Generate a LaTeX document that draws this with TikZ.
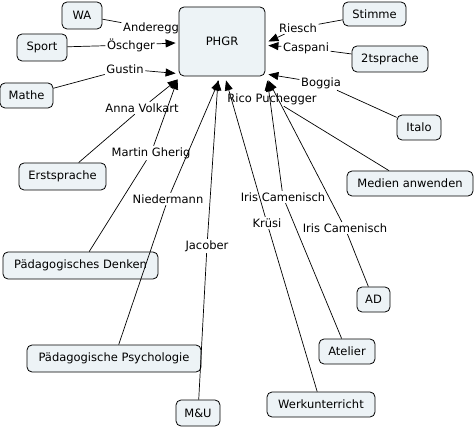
\documentclass[tikz,border=0pt]{standalone}
\usepackage{fontspec}
\setmainfont{DejaVu Sans}
\usetikzlibrary{arrows.meta,calc}
\definecolor{cfill}{RGB}{237,243,246}
\begin{document}
\begin{tikzpicture}[x=1pt,y=-1pt, font=\fontsize{11.5}{13}\selectfont,
  concept/.style={draw, line width=0.8pt, rounded corners=5pt, fill=cfill, inner sep=0pt, minimum height=25pt},
  lab/.style={inner sep=1.5pt},
  link/.style={line width=0.7pt},
  arr/.style={line width=0.7pt, -{Triangle[length=10pt,width=8pt]}}]
\useasboundingbox (0,0) rectangle (476,427);
% concepts
\node[concept, minimum width=86pt, minimum height=69pt] (phgr) at (222,41.5) {PHGR};
\node[concept, minimum width=40pt, minimum height=27pt] (wa) at (82,15.5) {WA};
\node[concept, minimum width=50pt, minimum height=27pt] (sport) at (42,47.5) {Sport};
\node[concept, minimum width=53pt] (mathe) at (26.5,95.5) {Mathe};
\node[concept, minimum width=87pt, minimum height=27pt] (erst) at (62.5,176.5) {Erstsprache};
\node[concept, minimum width=155pt, minimum height=27pt] (pdenken) at (80.5,265.5) {Pädagogisches Denken};
\node[concept, minimum width=174pt, minimum height=27pt] (ppsych) at (114,358.5) {Pädagogische Psychologie};
\node[concept, minimum width=44pt, minimum height=26pt] (mu) at (198,413) {M\&U};
\node[concept, minimum width=108pt] (werk) at (321,404.5) {Werkunterricht};
\node[concept, minimum width=56pt] (atelier) at (347,351.5) {Atelier};
\node[concept, minimum width=33pt] (ad) at (373.5,299.5) {AD};
\node[concept, minimum width=126pt] (medien) at (410,183.5) {Medien anwenden};
\node[concept, minimum width=44pt] (italo) at (419,127.5) {Italo};
\node[concept, minimum width=63pt, minimum height=24pt] (stimme) at (374.5,14) {Stimme};
\node[concept, minimum width=76pt, minimum height=26pt] (zweit) at (390,59) {2tsprache};
% linking phrases
\node[lab] (l-anderegg) at (151,28) {Anderegg};
\node[lab] (l-oeschger) at (131,45) {Öschger};
\node[lab] (l-gustin) at (125,69) {Gustin};
\node[lab] (l-anna) at (142,108) {Anna Volkart};
\node[lab] (l-martin) at (151,153) {Martin Gherig};
\node[lab] (l-nieder) at (168,199) {Niedermann};
\node[lab] (l-jacober) at (207,246) {Jacober};
\node[lab] (l-riesch) at (298,28) {Riesch};
\node[lab] (l-caspani) at (306,48) {Caspani};
\node[lab] (l-boggia) at (321,83) {Boggia};
\node[lab] (l-rico) at (272,99) {Rico Puchegger};
\node[lab] (l-iris1) at (283,197) {Iris Camenisch};
\node[lab] (l-kruesi) at (267,223) {Krüsi};
\node[lab] (l-iris2) at (345,228) {Iris Camenisch};
% concept -> phrase
\draw[link] (wa) -- (l-anderegg);
\draw[link] (sport) -- (l-oeschger);
\draw[link] (mathe) -- (l-gustin);
\draw[link] (erst) -- (l-anna);
\draw[link] (pdenken) -- (l-martin);
\draw[link] (ppsych) -- (l-nieder);
\draw[link] (mu) -- (l-jacober);
\draw[link] (stimme) -- (l-riesch);
\draw[link] (zweit) -- (l-caspani);
\draw[link] (italo) -- (l-boggia);
\draw[link] (medien) -- (l-rico);
\draw[link] (atelier) -- (l-iris1);
\draw[link] (werk) -- (l-kruesi);
\draw[link] (ad) -- (l-iris2);
% phrase -> PHGR
\draw[arr] (l-oeschger) -- ($(phgr.west)+(-3,1.5)$);
\draw[arr] (l-gustin) -- ($(phgr.south west)+(-3,-3)$);
\draw[arr] (l-anna) -- ($(phgr.south west)+(-1,3)$);
\draw[arr] (l-martin) -- ($(phgr.south west)+(-1,3)$);
\draw[arr] (l-nieder) -- ($(phgr.south)+(-3,4)$);
\draw[arr] (l-jacober) -- ($(phgr.south)+(-4,4)$);
\draw[arr] (l-kruesi) -- ($(phgr.south)+(4,4)$);
\draw[arr] (l-iris1) -- ($(phgr.south east)+(2,4)$);
\draw[arr] (l-iris2) -- ($(phgr.south east)+(3,4)$);
\draw[arr] (l-rico) -- ($(phgr.south east)+(2,5)$);
\draw[arr] (l-boggia) -- ($(phgr.south east)+(3,-2)$);
\draw[arr] (l-caspani) -- ($(phgr.east)+(3,4)$);
\draw[arr] (l-riesch) -- ($(phgr.east)+(3,0)$);
\end{tikzpicture}
\end{document}
